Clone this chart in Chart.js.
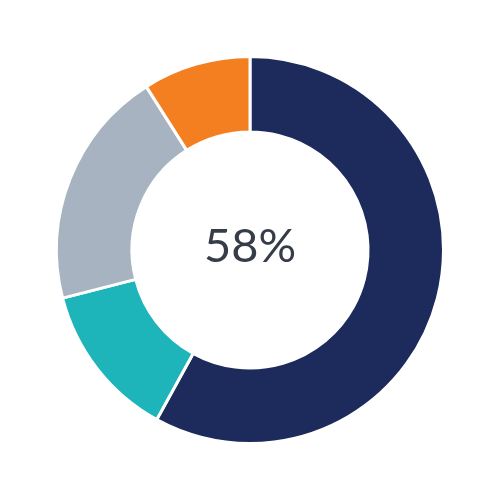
<!DOCTYPE html>
<html>
<head>
<meta charset="utf-8">
<script src="https://cdn.jsdelivr.net/npm/chart.js@4.4.1/dist/chart.umd.min.js"></script>
<style>
  html, body { margin: 0; padding: 0; background: #fff; }
  #wrap { width: 500px; height: 500px; }
</style>
</head>
<body>
<div id="wrap"><canvas id="chart"></canvas></div>
<script>
var labels = ['A', 'B', 'C', 'D'];
var values = [58, 13, 20, 9];
var colors = ['#1c2b5b', '#1db5b9', '#a8b3c1', '#f37f21'];
var centerText = '58%';

// draws the big number in the hole
var centerLabel = {
    id: 'centerLabel',
    afterDraw: function (chart) {
        var ctx = chart.ctx;
        var meta = chart.getDatasetMeta(0).data[0];
        ctx.save();
        ctx.font = '47px Lato';
        ctx.fillStyle = '#363d48';
        ctx.textAlign = 'center';
        ctx.textBaseline = 'middle';
        ctx.fillText(centerText, meta.x, meta.y - 3);
        ctx.restore();
    }
};

new Chart(document.getElementById('chart'), {
    type: 'doughnut',
    data: {
        labels: labels,
        datasets: [{
            data: values,
            backgroundColor: colors,
            borderColor: '#ffffff',
            borderWidth: 3
        }]
    },
    options: {
        responsive: true,
        maintainAspectRatio: false,
        animation: false,
        cutout: '61%',
        layout: { padding: 55 },
        plugins: {
            legend: { display: false },
            tooltip: { enabled: false }
        }
    },
    plugins: [centerLabel]
});
</script>
</body>
</html>
